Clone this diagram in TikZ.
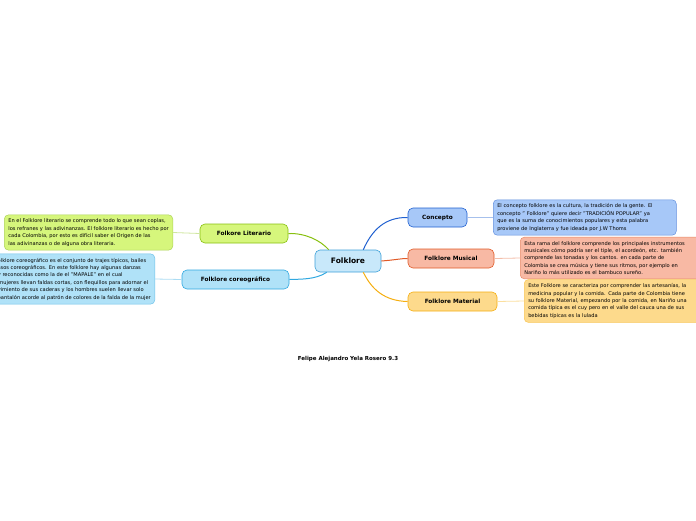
\documentclass[tikz,border=0pt]{standalone}
\usepackage{fontspec}
\setmainfont{DejaVu Sans}
\begin{document}
\begin{tikzpicture}[x=1pt,y=-1pt,
 main/.style={draw,rounded corners=5pt,line width=0.6pt,font=\bfseries\fontsize{5.8}{7}\selectfont,minimum height=19pt,inner xsep=4pt},
 leaf/.style={draw,rounded corners=4pt,line width=0.5pt,font=\fontsize{5.1}{7.4}\selectfont,align=left,inner sep=4pt},
 conn/.style={line width=1pt},
 lconn/.style={line width=0.8pt}]
\useasboundingbox (0,0) rectangle (696,520);
\definecolor{bF}{HTML}{3DA0D8}\definecolor{fF}{HTML}{C8E8FA}
\definecolor{bC}{HTML}{2060D0}\definecolor{fC}{HTML}{A7C8F8}
\definecolor{bM}{HTML}{E05A28}\definecolor{fM}{HTML}{F8B9A4}
\definecolor{bT}{HTML}{F5AE10}\definecolor{fT}{HTML}{FDDA8C}
\definecolor{bL}{HTML}{88C010}\definecolor{fL}{HTML}{D6F67C}
\definecolor{bR}{HTML}{30A8E0}\definecolor{fR}{HTML}{B0E2F8}

\node[main,draw=bF,fill=fF,minimum width=66pt,minimum height=22pt,font=\bfseries\fontsize{7.5}{9}\selectfont] (fo) at (348,261) {Folklore};
\node[main,draw=bC,fill=fC,minimum width=59pt] (co) at (437.5,217.5) {Concepto};
\node[main,draw=bM,fill=fM,minimum width=86pt] (mu) at (451,258.5) {Folklore Musical};
\node[main,draw=bT,fill=fT,minimum width=89pt] (ma) at (452.5,301.5) {Folklore Material};
\node[main,draw=bL,fill=fL,minimum width=88pt] (li) at (244,233.5) {Folkore Literario};
\node[main,draw=bR,fill=fR,minimum width=107pt] (cr) at (235.5,279.5) {Folklore coreográfico};

\node[leaf,draw=bC!70,fill=fC,anchor=west,text width=175pt] (lc) at (493,217.5) {El concepto folklore es la cultura, la tradición de la gente. El\\concepto " Folklore" quiere decir "TRADICIÓN POPULAR" ya\\que es la suma de conocimientos populares y esta palabra\\proviene de Inglaterra y fue ideada por J.W Thoms};
\node[leaf,draw=bM!70,fill=fM,anchor=west,text width=190pt] (lm) at (520,258) {Esta rama del folklore comprende los principales instrumentos\\musicales cómo podría ser el tiple, el acordeón, etc. también\\comprende las tonadas y los cantos. en cada parte de\\Colombia se crea música y tiene sus ritmos, por ejemplo en\\Nariño lo más utilizado es el bambuco sureño.};
\node[leaf,draw=bT!70,fill=fT,anchor=west,text width=190pt] (lt) at (524,301) {Este Folklore se caracteriza por comprender las artesanías, la\\medicina popular y la comida. Cada parte de Colombia tiene\\su folklore Material, empezando por la comida, en Nariño una\\comida típica es el cuy pero en el valle del cauca una de sus\\bebidas típicas es la lulada};
\node[leaf,draw=bL!70,fill=fL,anchor=east] (ll) at (173,232.5) {En el Folklore literario se comprende todo lo que sean coplas,\\los refranes y las adivinanzas. El folklore literario es hecho por\\cada Colombia, por esto es difícil saber el Origen de las\\las adivinanzas o de alguna obra literaria.};
\node[leaf,draw=bR!70,fill=fR,anchor=east] (lr) at (155,279) {El folklore coreográfico es el conjunto de trajes típicos, bailes\\y pasos coreográficos. En este folklore hay algunas danzas\\muy reconocidas como la de el "MAPALE" en el cual\\las mujeres llevan faldas cortas, con flequillos para adornar el\\movimiento de sus caderas y los hombres suelen llevar solo\\un pantalón acorde al patrón de colores de la falda de la mujer};

\draw[conn,bC] (fo.north east)++(-18,0) .. controls (372,230) and (385,217) .. (co.west);
\draw[conn,bM] (fo.east) .. controls (395,260) and (400,258.5) .. (mu.west);
\draw[conn,bT] (fo.south east)++(-18,0) .. controls (372,290) and (385,301) .. (ma.west);
\draw[conn,bL] (fo.north west)++(14,0) .. controls (320,240) and (305,233) .. (li.east);
\draw[conn,bR] (fo.south west)++(12,0) .. controls (315,280) and (300,279) .. (cr.east);
\draw[lconn,bC!40] (co.east) -- (lc.west);
\draw[lconn,bM!40] (mu.east) -- (lm.west);
\draw[lconn,bT!40] (ma.east) -- (lt.west);
\draw[lconn,bL!40] (li.west) -- (ll.east);
\draw[lconn,bR!40] (cr.west) -- (lr.east);

\node[font=\bfseries\fontsize{5.5}{7}\selectfont] (ft) at (348,359) {Felipe Alejandro Yela Rosero 9.3};
\end{tikzpicture}
\end{document}
